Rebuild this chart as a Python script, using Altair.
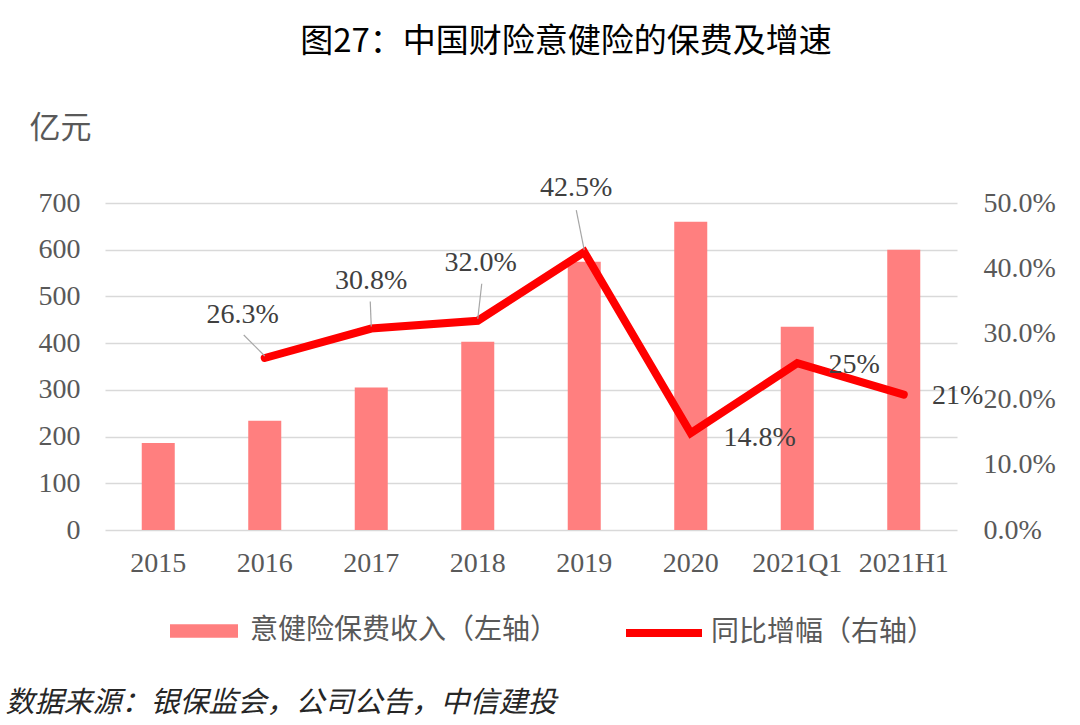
import altair as alt
import pandas as pd

# ---- data ----
categories = ["2015", "2016", "2017", "2018", "2019", "2020", "2021Q1", "2021H1"]
premium = [186, 234, 305, 403, 574, 660, 435, 600]          # 亿元 (left axis)
growth_pct = [None, 26.3, 30.8, 32.0, 42.5, 14.8, 25.5, 20.7]  # % (right axis)
growth_labels = ["", "26.3%", "30.8%", "32.0%", "42.5%", "14.8%", "25%", "21%"]

BAR_NAME = "意健险保费收入（左轴）"
LINE_NAME = "同比增幅（右轴）"
TITLE = "图27：中国财险意健险的保费及增速"
UNIT = "亿元"
SOURCE = "数据来源：银保监会，公司公告，中信建投"

df = pd.DataFrame({
    "cat": categories,
    "premium": premium,
    "growth": [g / 100 if g is not None else None for g in growth_pct],
    "label": growth_labels,
    "s_bar": BAR_NAME,
    "s_line": LINE_NAME,
})

# ---- styles ----
CJK = "Noto Sans CJK SC"
SERIF = "Liberation Serif"
GREY = "#595959"
# label offsets (dx, dy) from the point, and optional leader-line start offset
label_style = {
    "2016": (-22, -43, (-21, -23)),
    "2017": (0, -48, (-1, -27)),
    "2018": (3, -58, (4, -37)),
    "2019": (-8, -64, (-8, -42)),
    "2020": (69, 5, None),
    "2021Q1": (57, 2, None),
    "2021H1": (54, 1, None),
}

x_enc = alt.X(
    "cat:N", sort=categories,
    scale=alt.Scale(paddingInner=0.69, paddingOuter=0.345),
    axis=alt.Axis(
        title=SOURCE, titleFont=CJK, titleFontSize=29, titleFontStyle="italic",
        titleFontWeight="normal", titleColor="#262626", titleAngle=0,
        titleX=-100, titleY=172, titleAlign="left", titleBaseline="middle",
        labelAngle=0, labelFont=SERIF, labelFontSize=28, labelColor=GREY,
        labelPadding=19, ticks=False, domain=False, grid=False,
    ),
)

y_left = alt.Y(
    "premium:Q", scale=alt.Scale(domain=[0, 700]),
    axis=alt.Axis(
        values=list(range(0, 701, 100)), title=UNIT, titleAngle=0,
        titleX=-76, titleY=-75, titleAlign="left", titleBaseline="middle",
        titleFont=CJK, titleFontSize=31, titleFontWeight="normal", titleColor=GREY,
        labelFont=SERIF, labelFontSize=28, labelColor=GREY, labelPadding=25,
        ticks=False, domain=False, grid=True, gridColor="#D9D9D9", gridWidth=1.3,
    ),
)

y_right = alt.Y(
    "growth:Q", scale=alt.Scale(domain=[0, 0.5]),
    axis=alt.Axis(
        orient="right", format=".1%", values=[0, 0.1, 0.2, 0.3, 0.4, 0.5],
        title=None, labelFont=SERIF, labelFontSize=28, labelColor=GREY,
        labelPadding=26, ticks=False, domain=False, grid=False,
    ),
)

base = alt.Chart(df)

bars = base.mark_bar(color="#FF7F7F").encode(
    x=x_enc, y=y_left,
    fill=alt.Fill("s_bar:N", scale=alt.Scale(range=["#FF7F7F"]),
                  legend=alt.Legend(
                      orient="none", legendX=65, legendY=394, title=None, padding=0,
                      symbolType="M-1,-0.2H1V0.2H-1Z", symbolSize=4624,
                      symbolStrokeWidth=0, labelOffset=12, labelLimit=0,
                      labelFont=CJK, labelFontSize=28, labelColor=GREY)),
)

line = base.transform_filter("isValid(datum.growth)").mark_line(
    strokeWidth=8, strokeCap="round", color="#FF0000"
).encode(
    x=x_enc, y=y_right,
    stroke=alt.Stroke("s_line:N", scale=alt.Scale(range=["#FF0000"]),
                      legend=alt.Legend(
                          orient="none", legendX=517, legendY=388, title=None, padding=0,
                          symbolType="stroke", symbolSize=5776, symbolStrokeWidth=8,
                          labelOffset=5, labelLimit=0,
                          labelFont=CJK, labelFontSize=28, labelColor=GREY)),
)

layers = [line]
for cat, (dx, dy, lead) in label_style.items():
    sub = base.transform_filter(alt.datum.cat == cat)
    if lead is not None:
        layers.append(sub.mark_rule(
            color="#A6A6A6", strokeWidth=1.2,
            xOffset=0, yOffset=-2, x2Offset=lead[0], y2Offset=lead[1],
        ).encode(x=x_enc, y=y_right, x2="cat:N", y2="growth:Q"))
    layers.append(sub.mark_text(
        font=SERIF, fontSize=28, color="#404040", align="center",
        baseline="middle", dx=dx, dy=dy,
    ).encode(x=x_enc, y=y_right, text="label:N"))

right = alt.layer(*layers)

chart = alt.layer(bars, right).resolve_scale(y="independent").properties(
    width=852, height=327,
    title=alt.Title(TITLE, font=CJK, fontSize=33, fontWeight="normal",
                    color="#000000", anchor="middle", dx=35, offset=53),
    autosize=alt.AutoSizeParams(type="none"),
    padding={"left": 105, "top": 203, "right": 123, "bottom": 195},
).configure_view(stroke=None)

chart.save("out.html", embed_options={"renderer": "svg", "actions": False})
